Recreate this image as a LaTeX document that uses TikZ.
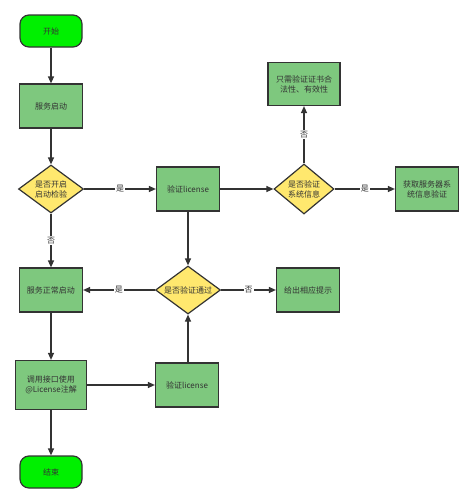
\documentclass[tikz,border=0pt]{standalone}
\usepackage{fontspec}
\setmainfont{Noto Sans CJK SC}
\usetikzlibrary{shapes.geometric,arrows.meta}
\definecolor{termgreen}{HTML}{00F000}
\definecolor{boxgreen}{HTML}{7EC87E}
\definecolor{diayellow}{HTML}{FFE86E}
\definecolor{ink}{HTML}{333333}
\tikzset{
  base/.style={draw=ink, line width=1.2pt, text=ink, font=\fontsize{8}{10}\selectfont, align=center, inner sep=0pt},
  term/.style={base, rounded corners=9pt, fill=termgreen, minimum width=62pt, minimum height=32pt},
  proc/.style={base, fill=boxgreen, minimum width=63pt, minimum height=44pt},
  dec/.style={base, fill=diayellow, diamond, aspect=1.35, minimum width=65pt, minimum height=48pt},
  conn/.style={draw=ink, line width=1.2pt, -{Triangle[length=7pt,width=6pt]}},
  lab/.style={fill=white, text=ink, font=\fontsize{8}{10}\selectfont, inner sep=1pt}
}
\begin{document}
\begin{tikzpicture}[x=1pt,y=-1pt]
\useasboundingbox (0,0) rectangle (474,504);
\node[term] (start) at (51,31) {开始};
\node[proc] (svc) at (51,106) {服务启动};
\node[dec] (d1) at (51,189) {是否开启\\启动检验};
\node[proc] (v1) at (188,189) {验证license};
\node[dec, minimum width=60pt, minimum height=50pt] (d2) at (304,189) {是否验证\\系统信息};
\node[proc, minimum width=72pt, minimum height=43pt] (only) at (304,84) {只需验证证书合\\法性、有效性};
\node[proc] (get) at (427,189) {获取服务器系\\统信息验证};
\node[proc] (normal) at (51,290) {服务正常启动};
\node[dec] (d3) at (188,290) {是否验证通过};
\node[proc] (tip) at (308,290) {给出相应提示};
\node[proc, minimum width=71pt, minimum height=49pt] (call) at (51,385) {调用接口使用\\@License注解};
\node[proc] (v2) at (187,385) {验证license};
\node[term] (end) at (51,472) {结束};

\draw[conn] (start) -- (svc);
\draw[conn] (svc) -- (d1);
\draw[conn] (d1) -- node[lab]{是} (v1);
\draw[conn] (d1) -- node[lab, pos=0.5]{否} (normal);
\draw[conn] (v1) -- (d2);
\draw[conn] (d2) -- node[lab]{否} (only);
\draw[conn] (d2) -- node[lab]{是} (get);
\draw[conn] (v1) -- (d3);
\draw[conn] (d3) -- node[lab]{是} (normal);
\draw[conn] (d3) -- node[lab]{否} (tip);
\draw[conn] (normal) -- (call);
\draw[conn] (call) -- (v2);
\draw[conn] (v2.north -| d3.south) -- (d3.south);
\draw[conn] (call) -- (end);
\end{tikzpicture}
\end{document}
